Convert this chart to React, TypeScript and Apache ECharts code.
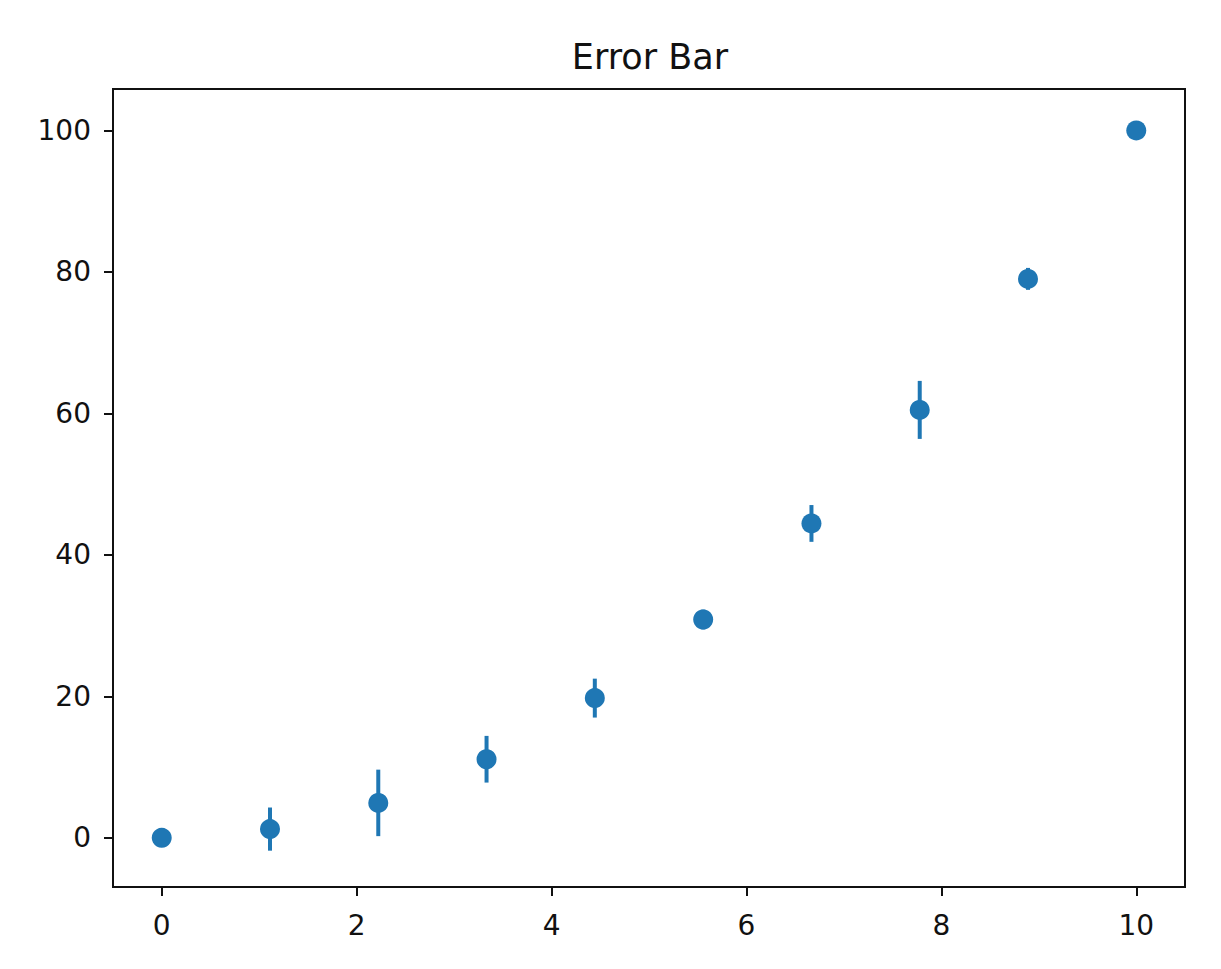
import { useEffect, useRef } from 'react';
import * as echarts from 'echarts';

// x = linspace(0, 10, 10)
const xValues = [0, 1.111, 2.222, 3.333, 4.444, 5.556, 6.667, 7.778, 8.889, 10];
const yValues = [0, 1.235, 4.938, 11.11, 19.75, 30.86, 44.44, 60.49, 79.01, 100];
const yErrors = [0.7, 3.05, 4.7, 3.3, 2.75, 1.4, 2.6, 4.1, 1.55, 0.72];

const xTicks = [0, 2, 4, 6, 8, 10];
const yTicks = [0, 20, 40, 60, 80, 100];

const BLUE = '#1f77b4';
const FONT = 'DejaVu Sans';

export default function App() {
  const chartRef = useRef<HTMLDivElement>(null);

  useEffect(() => {
    if (!chartRef.current) return;
    const chart = echarts.init(chartRef.current, undefined, { renderer: 'svg' });

    const points = xValues.map((x, i) => [x, yValues[i], yErrors[i]]);

    const option = {
      animation: false,
      backgroundColor: '#fff',
      title: {
        text: 'Error Bar',
        left: 645,
        top: 34,
        textAlign: 'center',
        textStyle: { fontFamily: FONT, fontSize: 35, fontWeight: 'normal', color: '#111' },
      },
      grid: {
        left: 113,
        top: 89,
        width: 1072,
        height: 798,
        show: true,
        borderColor: '#111',
        borderWidth: 2,
        backgroundColor: 'transparent',
      },
      xAxis: {
        type: 'value' as const,
        min: -0.5,
        max: 10.5,
        splitLine: { show: false },
        axisLine: { show: true, onZero: false, lineStyle: { color: '#111', width: 2 } },
        axisTick: { show: true, length: 9, customValues: xTicks, lineStyle: { color: '#111', width: 2 } },
        axisLabel: {
          customValues: xTicks,
          margin: 24,
          fontFamily: FONT,
          fontSize: 28,
          color: '#111',
        },
      },
      yAxis: {
        type: 'value' as const,
        min: -6.95,
        max: 105.85,
        splitLine: { show: false },
        axisLine: { show: true, onZero: false, lineStyle: { color: '#111', width: 2 } },
        axisTick: { show: true, length: 9, customValues: yTicks, lineStyle: { color: '#111', width: 2 } },
        axisLabel: {
          customValues: yTicks,
          margin: 22,
          fontFamily: FONT,
          fontSize: 28,
          color: '#111',
        },
      },
      series: [
        {
          type: 'custom' as const,
          z: 2,
          renderItem: (_params: unknown, api: any) => {
            const x = api.value(0);
            const y = api.value(1);
            const e = api.value(2);
            const top = api.coord([x, y + e]);
            const bottom = api.coord([x, y - e]);
            return {
              type: 'line',
              shape: { x1: top[0], y1: top[1], x2: bottom[0], y2: bottom[1] },
              style: { stroke: BLUE, lineWidth: 4 },
            };
          },
          encode: { x: 0, y: 1 },
          data: points,
        },
        {
          type: 'scatter' as const,
          z: 3,
          symbol: 'circle',
          symbolSize: 20,
          itemStyle: { color: BLUE, opacity: 1 },
          data: points.map((p) => [p[0], p[1]]),
        },
      ],
    };

    chart.setOption(option as echarts.EChartsOption);
    return () => chart.dispose();
  }, []);

  return (
    <div
      ref={chartRef}
      style={{ position: 'absolute', left: 0, top: 0, width: 1221, height: 969 }}
    />
  );
}
